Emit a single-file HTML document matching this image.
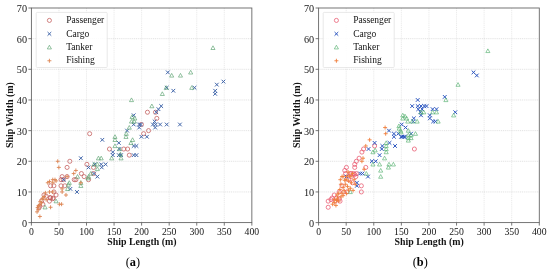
<!DOCTYPE html><html><head><meta charset="utf-8"><title>Ship length vs width</title>
<style>html,body{margin:0;padding:0;background:#fff}svg{display:block}text{font-family:"Liberation Serif","Times New Roman",serif;fill:#151515}</style></head><body>
<svg width="550" height="273" viewBox="0 0 550 273">
<rect width="550" height="273" fill="#fff"/>
<path d="M58.96 8.0V222.6M86.51 8.0V222.6M114.07 8.0V222.6M141.62 8.0V222.6M169.18 8.0V222.6M196.74 8.0V222.6M224.29 8.0V222.6" stroke="#dcdcdc" stroke-width="0.6" stroke-dasharray="1.1 0.8" fill="none"/>
<path d="M31.4 191.94H251.85M31.4 161.29H251.85M31.4 130.63H251.85M31.4 99.97H251.85M31.4 69.31H251.85M31.4 38.66H251.85" stroke="#d0d0d0" stroke-width="0.6" stroke-dasharray="1.1 0.8" fill="none"/>
<circle cx="155.49" cy="112.23" r="2.05" fill="none" stroke="#c25a58" stroke-width="0.75"/>
<circle cx="156.81" cy="118.37" r="2.05" fill="none" stroke="#c25a58" stroke-width="0.75"/>
<circle cx="147.46" cy="112.23" r="2.05" fill="none" stroke="#c25a58" stroke-width="0.75"/>
<circle cx="141.40" cy="124.50" r="2.05" fill="none" stroke="#c25a58" stroke-width="0.75"/>
<circle cx="148.56" cy="130.63" r="2.05" fill="none" stroke="#c25a58" stroke-width="0.75"/>
<circle cx="143.60" cy="133.69" r="2.05" fill="none" stroke="#c25a58" stroke-width="0.75"/>
<circle cx="89.65" cy="133.69" r="2.05" fill="none" stroke="#c25a58" stroke-width="0.75"/>
<circle cx="109.47" cy="149.02" r="2.05" fill="none" stroke="#c25a58" stroke-width="0.75"/>
<circle cx="123.78" cy="149.02" r="2.05" fill="none" stroke="#c25a58" stroke-width="0.75"/>
<circle cx="127.64" cy="149.02" r="2.05" fill="none" stroke="#c25a58" stroke-width="0.75"/>
<circle cx="129.29" cy="155.15" r="2.05" fill="none" stroke="#c25a58" stroke-width="0.75"/>
<circle cx="69.83" cy="161.29" r="2.05" fill="none" stroke="#c25a58" stroke-width="0.75"/>
<circle cx="67.08" cy="167.42" r="2.05" fill="none" stroke="#c25a58" stroke-width="0.75"/>
<circle cx="86.90" cy="164.35" r="2.05" fill="none" stroke="#c25a58" stroke-width="0.75"/>
<circle cx="93.51" cy="167.42" r="2.05" fill="none" stroke="#c25a58" stroke-width="0.75"/>
<circle cx="81.40" cy="173.55" r="2.05" fill="none" stroke="#c25a58" stroke-width="0.75"/>
<circle cx="93.51" cy="173.55" r="2.05" fill="none" stroke="#c25a58" stroke-width="0.75"/>
<circle cx="62.13" cy="176.61" r="2.05" fill="none" stroke="#c25a58" stroke-width="0.75"/>
<circle cx="67.08" cy="176.61" r="2.05" fill="none" stroke="#c25a58" stroke-width="0.75"/>
<circle cx="84.15" cy="176.61" r="2.05" fill="none" stroke="#c25a58" stroke-width="0.75"/>
<circle cx="61.03" cy="179.68" r="2.05" fill="none" stroke="#c25a58" stroke-width="0.75"/>
<circle cx="63.23" cy="179.68" r="2.05" fill="none" stroke="#c25a58" stroke-width="0.75"/>
<circle cx="74.24" cy="179.68" r="2.05" fill="none" stroke="#c25a58" stroke-width="0.75"/>
<circle cx="75.89" cy="179.68" r="2.05" fill="none" stroke="#c25a58" stroke-width="0.75"/>
<circle cx="88.55" cy="179.68" r="2.05" fill="none" stroke="#c25a58" stroke-width="0.75"/>
<circle cx="50.57" cy="185.81" r="2.05" fill="none" stroke="#c25a58" stroke-width="0.75"/>
<circle cx="53.87" cy="185.81" r="2.05" fill="none" stroke="#c25a58" stroke-width="0.75"/>
<circle cx="61.03" cy="185.81" r="2.05" fill="none" stroke="#c25a58" stroke-width="0.75"/>
<circle cx="64.88" cy="185.81" r="2.05" fill="none" stroke="#c25a58" stroke-width="0.75"/>
<circle cx="53.87" cy="191.94" r="2.05" fill="none" stroke="#c25a58" stroke-width="0.75"/>
<circle cx="43.96" cy="195.01" r="2.05" fill="none" stroke="#c25a58" stroke-width="0.75"/>
<circle cx="56.07" cy="195.01" r="2.05" fill="none" stroke="#c25a58" stroke-width="0.75"/>
<circle cx="50.57" cy="198.07" r="2.05" fill="none" stroke="#c25a58" stroke-width="0.75"/>
<circle cx="53.32" cy="198.07" r="2.05" fill="none" stroke="#c25a58" stroke-width="0.75"/>
<circle cx="50.02" cy="197.46" r="2.05" fill="none" stroke="#c25a58" stroke-width="0.75"/>
<circle cx="52.77" cy="198.69" r="2.05" fill="none" stroke="#c25a58" stroke-width="0.75"/>
<circle cx="49.47" cy="201.14" r="2.05" fill="none" stroke="#c25a58" stroke-width="0.75"/>
<circle cx="42.86" cy="204.21" r="2.05" fill="none" stroke="#c25a58" stroke-width="0.75"/>
<circle cx="39.56" cy="206.35" r="2.05" fill="none" stroke="#c25a58" stroke-width="0.75"/>
<circle cx="41.76" cy="200.53" r="2.05" fill="none" stroke="#c25a58" stroke-width="0.75"/>
<circle cx="46.16" cy="196.23" r="2.05" fill="none" stroke="#c25a58" stroke-width="0.75"/>
<circle cx="39.01" cy="207.88" r="2.05" fill="none" stroke="#c25a58" stroke-width="0.75"/>
<path d="M165.97 70.53L169.67 74.23M165.97 74.23L169.67 70.53" stroke="#4166aa" stroke-width="1.0" fill="none"/>
<path d="M221.57 79.73L225.27 83.43M221.57 83.43L225.27 79.73" stroke="#4166aa" stroke-width="1.0" fill="none"/>
<path d="M214.97 82.79L218.67 86.49M214.97 86.49L218.67 82.79" stroke="#4166aa" stroke-width="1.0" fill="none"/>
<path d="M213.32 88.92L217.02 92.62M213.32 92.62L217.02 88.92" stroke="#4166aa" stroke-width="1.0" fill="none"/>
<path d="M213.32 91.99L217.02 95.69M213.32 95.69L217.02 91.99" stroke="#4166aa" stroke-width="1.0" fill="none"/>
<path d="M164.87 85.86L168.57 89.56M164.87 89.56L168.57 85.86" stroke="#4166aa" stroke-width="1.0" fill="none"/>
<path d="M171.48 88.92L175.18 92.62M171.48 92.62L175.18 88.92" stroke="#4166aa" stroke-width="1.0" fill="none"/>
<path d="M192.67 85.86L196.37 89.56M192.67 89.56L196.37 85.86" stroke="#4166aa" stroke-width="1.0" fill="none"/>
<path d="M159.37 104.25L163.07 107.95M159.37 107.95L163.07 104.25" stroke="#4166aa" stroke-width="1.0" fill="none"/>
<path d="M156.62 107.32L160.32 111.02M156.62 111.02L160.32 107.32" stroke="#4166aa" stroke-width="1.0" fill="none"/>
<path d="M154.41 110.38L158.11 114.08M154.41 114.08L158.11 110.38" stroke="#4166aa" stroke-width="1.0" fill="none"/>
<path d="M131.84 113.45L135.54 117.15M131.84 117.15L135.54 113.45" stroke="#4166aa" stroke-width="1.0" fill="none"/>
<path d="M131.84 122.65L135.54 126.35M131.84 126.35L135.54 122.65" stroke="#4166aa" stroke-width="1.0" fill="none"/>
<path d="M137.35 122.65L141.05 126.35M137.35 126.35L141.05 122.65" stroke="#4166aa" stroke-width="1.0" fill="none"/>
<path d="M139.00 122.65L142.70 126.35M139.00 126.35L142.70 122.65" stroke="#4166aa" stroke-width="1.0" fill="none"/>
<path d="M152.76 119.58L156.46 123.28M152.76 123.28L156.46 119.58" stroke="#4166aa" stroke-width="1.0" fill="none"/>
<path d="M151.11 122.65L154.81 126.35M151.11 126.35L154.81 122.65" stroke="#4166aa" stroke-width="1.0" fill="none"/>
<path d="M153.86 122.65L157.56 126.35M153.86 126.35L157.56 122.65" stroke="#4166aa" stroke-width="1.0" fill="none"/>
<path d="M153.31 125.71L157.01 129.41M153.31 129.41L157.01 125.71" stroke="#4166aa" stroke-width="1.0" fill="none"/>
<path d="M158.27 122.65L161.97 126.35M158.27 126.35L161.97 122.65" stroke="#4166aa" stroke-width="1.0" fill="none"/>
<path d="M164.87 122.65L168.57 126.35M164.87 126.35L168.57 122.65" stroke="#4166aa" stroke-width="1.0" fill="none"/>
<path d="M125.24 128.78L128.94 132.48M125.24 132.48L128.94 128.78" stroke="#4166aa" stroke-width="1.0" fill="none"/>
<path d="M137.35 125.71L141.05 129.41M137.35 129.41L141.05 125.71" stroke="#4166aa" stroke-width="1.0" fill="none"/>
<path d="M139.55 134.91L143.25 138.61M139.55 138.61L143.25 134.91" stroke="#4166aa" stroke-width="1.0" fill="none"/>
<path d="M145.06 134.91L148.75 138.61M145.06 138.61L148.75 134.91" stroke="#4166aa" stroke-width="1.0" fill="none"/>
<path d="M100.46 137.98L104.16 141.68M100.46 141.68L104.16 137.98" stroke="#4166aa" stroke-width="1.0" fill="none"/>
<path d="M116.98 141.04L120.68 144.74M116.98 144.74L120.68 141.04" stroke="#4166aa" stroke-width="1.0" fill="none"/>
<path d="M131.84 144.11L135.54 147.81M131.84 147.81L135.54 144.11" stroke="#4166aa" stroke-width="1.0" fill="none"/>
<path d="M134.60 144.11L138.30 147.81M134.60 147.81L138.30 144.11" stroke="#4166aa" stroke-width="1.0" fill="none"/>
<path d="M117.53 147.17L121.23 150.87M117.53 150.87L121.23 147.17" stroke="#4166aa" stroke-width="1.0" fill="none"/>
<path d="M110.92 150.24L114.62 153.94M110.92 153.94L114.62 150.24" stroke="#4166aa" stroke-width="1.0" fill="none"/>
<path d="M110.92 153.30L114.62 157.00M110.92 157.00L114.62 153.30" stroke="#4166aa" stroke-width="1.0" fill="none"/>
<path d="M116.98 153.30L120.68 157.00M116.98 157.00L120.68 153.30" stroke="#4166aa" stroke-width="1.0" fill="none"/>
<path d="M119.18 153.30L122.88 157.00M119.18 157.00L122.88 153.30" stroke="#4166aa" stroke-width="1.0" fill="none"/>
<path d="M131.84 153.30L135.54 157.00M131.84 157.00L135.54 153.30" stroke="#4166aa" stroke-width="1.0" fill="none"/>
<path d="M134.60 153.30L138.30 157.00M134.60 157.00L138.30 153.30" stroke="#4166aa" stroke-width="1.0" fill="none"/>
<path d="M99.36 162.50L103.06 166.20M99.36 166.20L103.06 162.50" stroke="#4166aa" stroke-width="1.0" fill="none"/>
<path d="M103.77 162.50L107.47 166.20M103.77 166.20L107.47 162.50" stroke="#4166aa" stroke-width="1.0" fill="none"/>
<path d="M79.00 156.37L82.69 160.07M79.00 160.07L82.69 156.37" stroke="#4166aa" stroke-width="1.0" fill="none"/>
<path d="M86.70 165.57L90.40 169.27M86.70 169.27L90.40 165.57" stroke="#4166aa" stroke-width="1.0" fill="none"/>
<path d="M92.76 162.50L96.46 166.20M92.76 166.20L96.46 162.50" stroke="#4166aa" stroke-width="1.0" fill="none"/>
<path d="M99.91 165.57L103.61 169.27M99.91 169.27L103.61 165.57" stroke="#4166aa" stroke-width="1.0" fill="none"/>
<path d="M92.21 171.70L95.91 175.40M92.21 175.40L95.91 171.70" stroke="#4166aa" stroke-width="1.0" fill="none"/>
<path d="M95.51 174.76L99.21 178.46M95.51 178.46L99.21 174.76" stroke="#4166aa" stroke-width="1.0" fill="none"/>
<path d="M61.93 177.83L65.63 181.53M61.93 181.53L65.63 177.83" stroke="#4166aa" stroke-width="1.0" fill="none"/>
<path d="M68.54 187.03L72.24 190.73M68.54 190.73L72.24 187.03" stroke="#4166aa" stroke-width="1.0" fill="none"/>
<path d="M75.14 190.09L78.84 193.79M75.14 193.79L78.84 190.09" stroke="#4166aa" stroke-width="1.0" fill="none"/>
<path d="M178.09 122.65L181.78 126.35M178.09 126.35L181.78 122.65" stroke="#4166aa" stroke-width="1.0" fill="none"/>
<path d="M212.97 45.80L215.02 49.50L210.91 49.50Z" stroke="#58a06e" stroke-width="0.65" fill="none"/>
<path d="M171.68 73.40L173.73 77.10L169.63 77.10Z" stroke="#58a06e" stroke-width="0.65" fill="none"/>
<path d="M180.49 73.40L182.54 77.10L178.44 77.10Z" stroke="#58a06e" stroke-width="0.65" fill="none"/>
<path d="M190.67 70.33L192.72 74.03L188.62 74.03Z" stroke="#58a06e" stroke-width="0.65" fill="none"/>
<path d="M166.17 85.66L168.22 89.36L164.12 89.36Z" stroke="#58a06e" stroke-width="0.65" fill="none"/>
<path d="M191.77 85.66L193.82 89.36L189.72 89.36Z" stroke="#58a06e" stroke-width="0.65" fill="none"/>
<path d="M162.32 91.79L164.37 95.49L160.27 95.49Z" stroke="#58a06e" stroke-width="0.65" fill="none"/>
<path d="M151.86 104.05L153.91 107.75L149.81 107.75Z" stroke="#58a06e" stroke-width="0.65" fill="none"/>
<path d="M131.49 97.92L133.54 101.62L129.44 101.62Z" stroke="#58a06e" stroke-width="0.65" fill="none"/>
<path d="M132.04 114.78L134.09 118.48L129.99 118.48Z" stroke="#58a06e" stroke-width="0.65" fill="none"/>
<path d="M134.79 116.32L136.84 120.02L132.74 120.02Z" stroke="#58a06e" stroke-width="0.65" fill="none"/>
<path d="M131.49 119.38L133.54 123.08L129.44 123.08Z" stroke="#58a06e" stroke-width="0.65" fill="none"/>
<path d="M134.24 119.38L136.29 123.08L132.19 123.08Z" stroke="#58a06e" stroke-width="0.65" fill="none"/>
<path d="M129.29 125.51L131.34 129.21L127.24 129.21Z" stroke="#58a06e" stroke-width="0.65" fill="none"/>
<path d="M126.26 131.64L128.31 135.34L124.21 135.34Z" stroke="#58a06e" stroke-width="0.65" fill="none"/>
<path d="M125.99 134.71L128.04 138.41L123.94 138.41Z" stroke="#58a06e" stroke-width="0.65" fill="none"/>
<path d="M114.98 134.71L117.03 138.41L112.93 138.41Z" stroke="#58a06e" stroke-width="0.65" fill="none"/>
<path d="M114.98 137.78L117.03 141.48L112.93 141.48Z" stroke="#58a06e" stroke-width="0.65" fill="none"/>
<path d="M132.59 137.78L134.64 141.48L130.54 141.48Z" stroke="#58a06e" stroke-width="0.65" fill="none"/>
<path d="M130.94 140.84L132.99 144.54L128.89 144.54Z" stroke="#58a06e" stroke-width="0.65" fill="none"/>
<path d="M114.98 143.91L117.03 147.61L112.93 147.61Z" stroke="#58a06e" stroke-width="0.65" fill="none"/>
<path d="M119.38 146.97L121.43 150.67L117.33 150.67Z" stroke="#58a06e" stroke-width="0.65" fill="none"/>
<path d="M120.48 152.18L122.53 155.88L118.43 155.88Z" stroke="#58a06e" stroke-width="0.65" fill="none"/>
<path d="M121.03 156.17L123.08 159.87L118.98 159.87Z" stroke="#58a06e" stroke-width="0.65" fill="none"/>
<path d="M111.67 156.17L113.72 159.87L109.62 159.87Z" stroke="#58a06e" stroke-width="0.65" fill="none"/>
<path d="M101.21 156.17L103.26 159.87L99.16 159.87Z" stroke="#58a06e" stroke-width="0.65" fill="none"/>
<path d="M98.46 156.17L100.51 159.87L96.41 159.87Z" stroke="#58a06e" stroke-width="0.65" fill="none"/>
<path d="M94.06 162.30L96.11 166.00L92.01 166.00Z" stroke="#58a06e" stroke-width="0.65" fill="none"/>
<path d="M97.36 162.30L99.41 166.00L95.31 166.00Z" stroke="#58a06e" stroke-width="0.65" fill="none"/>
<path d="M97.36 166.90L99.41 170.60L95.31 170.60Z" stroke="#58a06e" stroke-width="0.65" fill="none"/>
<path d="M90.75 171.50L92.80 175.20L88.70 175.20Z" stroke="#58a06e" stroke-width="0.65" fill="none"/>
<path d="M77.54 174.56L79.59 178.26L75.49 178.26Z" stroke="#58a06e" stroke-width="0.65" fill="none"/>
<path d="M88.55 174.56L90.60 178.26L86.50 178.26Z" stroke="#58a06e" stroke-width="0.65" fill="none"/>
<path d="M69.28 180.70L71.33 184.40L67.23 184.40Z" stroke="#58a06e" stroke-width="0.65" fill="none"/>
<path d="M80.84 180.70L82.89 184.40L78.80 184.40Z" stroke="#58a06e" stroke-width="0.65" fill="none"/>
<path d="M80.84 183.76L82.89 187.46L78.80 187.46Z" stroke="#58a06e" stroke-width="0.65" fill="none"/>
<path d="M68.46 182.54L70.51 186.24L66.41 186.24Z" stroke="#58a06e" stroke-width="0.65" fill="none"/>
<path d="M67.63 186.83L69.68 190.53L65.58 190.53Z" stroke="#58a06e" stroke-width="0.65" fill="none"/>
<path d="M56.07 199.09L58.12 202.79L54.02 202.79Z" stroke="#58a06e" stroke-width="0.65" fill="none"/>
<path d="M45.06 205.22L47.11 208.92L43.01 208.92Z" stroke="#58a06e" stroke-width="0.65" fill="none"/>
<path d="M88.00 176.10L90.05 179.80L85.95 179.80Z" stroke="#58a06e" stroke-width="0.65" fill="none"/>
<path d="M55.72 161.29L59.72 161.29M57.72 159.29L57.72 163.29" stroke="#dd8452" stroke-width="0.9" fill="none"/>
<path d="M56.83 167.42L60.83 167.42M58.83 165.42L58.83 169.42" stroke="#dd8452" stroke-width="0.9" fill="none"/>
<path d="M73.89 170.48L77.89 170.48M75.89 168.48L75.89 172.48" stroke="#dd8452" stroke-width="0.9" fill="none"/>
<path d="M71.69 173.55L75.69 173.55M73.69 171.55L73.69 175.55" stroke="#dd8452" stroke-width="0.9" fill="none"/>
<path d="M65.08 176.61L69.08 176.61M67.08 174.61L67.08 178.61" stroke="#dd8452" stroke-width="0.9" fill="none"/>
<path d="M50.77 179.68L54.77 179.68M52.77 177.68L52.77 181.68" stroke="#dd8452" stroke-width="0.9" fill="none"/>
<path d="M52.97 179.68L56.97 179.68M54.97 177.68L54.97 181.68" stroke="#dd8452" stroke-width="0.9" fill="none"/>
<path d="M45.81 182.75L49.81 182.75M47.81 180.75L47.81 184.75" stroke="#dd8452" stroke-width="0.9" fill="none"/>
<path d="M50.77 182.75L54.77 182.75M52.77 180.75L52.77 184.75" stroke="#dd8452" stroke-width="0.9" fill="none"/>
<path d="M78.84 182.75L82.84 182.75M80.84 180.75L80.84 184.75" stroke="#dd8452" stroke-width="0.9" fill="none"/>
<path d="M47.47 191.94L51.47 191.94M49.47 189.94L49.47 193.94" stroke="#dd8452" stroke-width="0.9" fill="none"/>
<path d="M50.77 191.94L54.77 191.94M52.77 189.94L52.77 193.94" stroke="#dd8452" stroke-width="0.9" fill="none"/>
<path d="M60.13 188.88L64.13 188.88M62.13 186.88L62.13 190.88" stroke="#dd8452" stroke-width="0.9" fill="none"/>
<path d="M60.13 191.94L64.13 191.94M62.13 189.94L62.13 193.94" stroke="#dd8452" stroke-width="0.9" fill="none"/>
<path d="M63.98 195.01L67.98 195.01M65.98 193.01L65.98 197.01" stroke="#dd8452" stroke-width="0.9" fill="none"/>
<path d="M40.86 198.07L44.86 198.07M42.86 196.07L42.86 200.07" stroke="#dd8452" stroke-width="0.9" fill="none"/>
<path d="M59.58 204.21L63.58 204.21M61.58 202.21L61.58 206.21" stroke="#dd8452" stroke-width="0.9" fill="none"/>
<path d="M57.38 204.21L61.38 204.21M59.38 202.21L59.38 206.21" stroke="#dd8452" stroke-width="0.9" fill="none"/>
<path d="M48.57 207.27L52.57 207.27M50.57 205.27L50.57 209.27" stroke="#dd8452" stroke-width="0.9" fill="none"/>
<path d="M35.69 207.58L39.69 207.58M37.69 205.58L37.69 209.58" stroke="#dd8452" stroke-width="0.9" fill="none"/>
<path d="M36.18 209.72L40.18 209.72M38.18 207.72L38.18 211.72" stroke="#dd8452" stroke-width="0.9" fill="none"/>
<path d="M35.08 211.87L39.08 211.87M37.08 209.87L37.08 213.87" stroke="#dd8452" stroke-width="0.9" fill="none"/>
<path d="M37.89 216.47L41.89 216.47M39.89 214.47L39.89 218.47" stroke="#dd8452" stroke-width="0.9" fill="none"/>
<path d="M39.54 202.98L43.54 202.98M41.54 200.98L41.54 204.98" stroke="#dd8452" stroke-width="0.9" fill="none"/>
<path d="M37.61 205.13L41.61 205.13M39.61 203.13L39.61 207.13" stroke="#dd8452" stroke-width="0.9" fill="none"/>
<path d="M40.20 199.30L44.20 199.30M42.20 197.30L42.20 201.30" stroke="#dd8452" stroke-width="0.9" fill="none"/>
<path d="M44.16 199.61L48.16 199.61M46.16 197.61L46.16 201.61" stroke="#dd8452" stroke-width="0.9" fill="none"/>
<path d="M43.39 192.86L47.39 192.86M45.39 190.86L45.39 194.86" stroke="#dd8452" stroke-width="0.9" fill="none"/>
<path d="M47.47 181.52L51.47 181.52M49.47 179.52L49.47 183.52" stroke="#dd8452" stroke-width="0.9" fill="none"/>
<path d="M54.07 180.91L58.07 180.91M56.07 178.91L56.07 182.91" stroke="#dd8452" stroke-width="0.9" fill="none"/>
<path d="M36.46 205.74L40.46 205.74M38.46 203.74L38.46 207.74" stroke="#dd8452" stroke-width="0.9" fill="none"/>
<path d="M38.11 201.75L42.11 201.75M40.11 199.75L40.11 203.75" stroke="#dd8452" stroke-width="0.9" fill="none"/>
<path d="M41.96 196.54L45.96 196.54M43.96 194.54L43.96 198.54" stroke="#dd8452" stroke-width="0.9" fill="none"/>
<rect x="31.4" y="8.0" width="220.45" height="214.60" fill="none" stroke="#666" stroke-width="0.9"/>
<path d="M31.40 222.6v3.0M58.96 222.6v3.0M86.51 222.6v3.0M114.07 222.6v3.0M141.62 222.6v3.0M169.18 222.6v3.0M196.74 222.6v3.0M224.29 222.6v3.0M251.85 222.6v3.0M31.4 222.60h-3.0M31.4 191.94h-3.0M31.4 161.29h-3.0M31.4 130.63h-3.0M31.4 99.97h-3.0M31.4 69.31h-3.0M31.4 38.66h-3.0M31.4 8.00h-3.0" stroke="#555" stroke-width="0.8" fill="none"/>
<text transform="translate(31.40 234.65) scale(0.955 1)" font-size="10.2" text-anchor="middle">0</text>
<text transform="translate(58.96 234.65) scale(0.955 1)" font-size="10.2" text-anchor="middle">50</text>
<text transform="translate(86.51 234.65) scale(0.955 1)" font-size="10.2" text-anchor="middle">100</text>
<text transform="translate(114.07 234.65) scale(0.955 1)" font-size="10.2" text-anchor="middle">150</text>
<text transform="translate(141.62 234.65) scale(0.955 1)" font-size="10.2" text-anchor="middle">200</text>
<text transform="translate(169.18 234.65) scale(0.955 1)" font-size="10.2" text-anchor="middle">250</text>
<text transform="translate(196.74 234.65) scale(0.955 1)" font-size="10.2" text-anchor="middle">300</text>
<text transform="translate(224.29 234.65) scale(0.955 1)" font-size="10.2" text-anchor="middle">350</text>
<text transform="translate(251.85 234.65) scale(0.955 1)" font-size="10.2" text-anchor="middle">400</text>
<text transform="translate(27.00 226.50) scale(1.0 1)" font-size="10.2" text-anchor="end">0</text>
<text transform="translate(27.00 195.84) scale(1.0 1)" font-size="10.2" text-anchor="end">10</text>
<text transform="translate(27.00 165.19) scale(1.0 1)" font-size="10.2" text-anchor="end">20</text>
<text transform="translate(27.00 134.53) scale(1.0 1)" font-size="10.2" text-anchor="end">30</text>
<text transform="translate(27.00 103.87) scale(1.0 1)" font-size="10.2" text-anchor="end">40</text>
<text transform="translate(27.00 73.21) scale(1.0 1)" font-size="10.2" text-anchor="end">50</text>
<text transform="translate(27.00 42.56) scale(1.0 1)" font-size="10.2" text-anchor="end">60</text>
<text transform="translate(27.00 11.90) scale(1.0 1)" font-size="10.2" text-anchor="end">70</text>
<text transform="translate(141.93 245.00) scale(0.972 1)" font-size="10.2" text-anchor="middle" font-weight="bold">Ship Length (m)</text>
<text transform="translate(12.60 115.1) rotate(-90) scale(0.977 0.93)" font-size="10.2" font-weight="bold" text-anchor="middle">Ship Width (m)</text>
<text x="132.93" y="266" font-size="12.3" text-anchor="middle" style="fill:#000">(<tspan font-weight="bold">a</tspan>)</text>
<rect x="36.20" y="12.4" width="71" height="55.1" rx="1" fill="#fff" fill-opacity="0.85" stroke="#e0e0e0" stroke-width="0.7"/>
<circle cx="49.40" cy="20.40" r="2.05" fill="none" stroke="#c25a58" stroke-width="0.75"/>
<text transform="translate(66.20 23.10) scale(0.935 1)" style="fill:#111" font-size="10.2" text-anchor="start">Passenger</text>
<path d="M47.55 32.00L51.25 35.70M47.55 35.70L51.25 32.00" stroke="#4166aa" stroke-width="1.0" fill="none"/>
<text transform="translate(66.20 36.55) scale(0.935 1)" style="fill:#111" font-size="10.2" text-anchor="start">Cargo</text>
<path d="M49.40 45.25L51.45 48.95L47.35 48.95Z" stroke="#58a06e" stroke-width="0.65" fill="none"/>
<text transform="translate(66.20 50.00) scale(0.935 1)" style="fill:#111" font-size="10.2" text-anchor="start">Tanker</text>
<path d="M47.40 60.75L51.40 60.75M49.40 58.75L49.40 62.75" stroke="#dd8452" stroke-width="0.9" fill="none"/>
<text transform="translate(66.20 63.45) scale(0.935 1)" style="fill:#111" font-size="10.2" text-anchor="start">Fishing</text>
<path d="M346.19 8.0V222.6M373.77 8.0V222.6M401.36 8.0V222.6M428.95 8.0V222.6M456.54 8.0V222.6M484.12 8.0V222.6M511.71 8.0V222.6" stroke="#dcdcdc" stroke-width="0.6" stroke-dasharray="1.1 0.8" fill="none"/>
<path d="M318.6 191.94H539.3M318.6 161.29H539.3M318.6 130.63H539.3M318.6 99.97H539.3M318.6 69.31H539.3M318.6 38.66H539.3" stroke="#d0d0d0" stroke-width="0.6" stroke-dasharray="1.1 0.8" fill="none"/>
<circle cx="414.39" cy="149.02" r="2.05" fill="none" stroke="#e8566c" stroke-width="0.75"/>
<circle cx="374.61" cy="145.96" r="2.05" fill="none" stroke="#e8566c" stroke-width="0.75"/>
<circle cx="363.56" cy="149.02" r="2.05" fill="none" stroke="#e8566c" stroke-width="0.75"/>
<circle cx="361.90" cy="152.09" r="2.05" fill="none" stroke="#e8566c" stroke-width="0.75"/>
<circle cx="359.14" cy="158.22" r="2.05" fill="none" stroke="#e8566c" stroke-width="0.75"/>
<circle cx="356.38" cy="161.29" r="2.05" fill="none" stroke="#e8566c" stroke-width="0.75"/>
<circle cx="354.72" cy="164.35" r="2.05" fill="none" stroke="#e8566c" stroke-width="0.75"/>
<circle cx="354.72" cy="167.42" r="2.05" fill="none" stroke="#e8566c" stroke-width="0.75"/>
<circle cx="346.43" cy="167.42" r="2.05" fill="none" stroke="#e8566c" stroke-width="0.75"/>
<circle cx="365.77" cy="167.42" r="2.05" fill="none" stroke="#e8566c" stroke-width="0.75"/>
<circle cx="344.77" cy="170.48" r="2.05" fill="none" stroke="#e8566c" stroke-width="0.75"/>
<circle cx="350.30" cy="173.55" r="2.05" fill="none" stroke="#e8566c" stroke-width="0.75"/>
<circle cx="353.61" cy="173.55" r="2.05" fill="none" stroke="#e8566c" stroke-width="0.75"/>
<circle cx="356.38" cy="173.55" r="2.05" fill="none" stroke="#e8566c" stroke-width="0.75"/>
<circle cx="345.60" cy="173.55" r="2.05" fill="none" stroke="#e8566c" stroke-width="0.75"/>
<circle cx="351.40" cy="173.55" r="2.05" fill="none" stroke="#e8566c" stroke-width="0.75"/>
<circle cx="354.72" cy="174.47" r="2.05" fill="none" stroke="#e8566c" stroke-width="0.75"/>
<circle cx="351.40" cy="176.61" r="2.05" fill="none" stroke="#e8566c" stroke-width="0.75"/>
<circle cx="355.82" cy="176.61" r="2.05" fill="none" stroke="#e8566c" stroke-width="0.75"/>
<circle cx="361.35" cy="185.81" r="2.05" fill="none" stroke="#e8566c" stroke-width="0.75"/>
<circle cx="361.35" cy="191.94" r="2.05" fill="none" stroke="#e8566c" stroke-width="0.75"/>
<circle cx="339.25" cy="191.94" r="2.05" fill="none" stroke="#e8566c" stroke-width="0.75"/>
<circle cx="343.67" cy="191.94" r="2.05" fill="none" stroke="#e8566c" stroke-width="0.75"/>
<circle cx="346.98" cy="191.94" r="2.05" fill="none" stroke="#e8566c" stroke-width="0.75"/>
<circle cx="332.06" cy="198.07" r="2.05" fill="none" stroke="#e8566c" stroke-width="0.75"/>
<circle cx="336.49" cy="198.07" r="2.05" fill="none" stroke="#e8566c" stroke-width="0.75"/>
<circle cx="339.25" cy="198.69" r="2.05" fill="none" stroke="#e8566c" stroke-width="0.75"/>
<circle cx="328.20" cy="201.14" r="2.05" fill="none" stroke="#e8566c" stroke-width="0.75"/>
<circle cx="335.38" cy="201.14" r="2.05" fill="none" stroke="#e8566c" stroke-width="0.75"/>
<circle cx="340.02" cy="201.14" r="2.05" fill="none" stroke="#e8566c" stroke-width="0.75"/>
<circle cx="328.20" cy="207.27" r="2.05" fill="none" stroke="#e8566c" stroke-width="0.75"/>
<circle cx="342.01" cy="185.81" r="2.05" fill="none" stroke="#e8566c" stroke-width="0.75"/>
<circle cx="334.27" cy="195.01" r="2.05" fill="none" stroke="#e8566c" stroke-width="0.75"/>
<circle cx="348.64" cy="179.68" r="2.05" fill="none" stroke="#e8566c" stroke-width="0.75"/>
<circle cx="352.51" cy="182.75" r="2.05" fill="none" stroke="#e8566c" stroke-width="0.75"/>
<circle cx="330.96" cy="199.61" r="2.05" fill="none" stroke="#e8566c" stroke-width="0.75"/>
<path d="M471.65 70.53L475.36 74.23M471.65 74.23L475.36 70.53" stroke="#2c56c0" stroke-width="1.0" fill="none"/>
<path d="M474.97 73.60L478.67 77.30M474.97 77.30L478.67 73.60" stroke="#2c56c0" stroke-width="1.0" fill="none"/>
<path d="M442.92 95.06L446.62 98.76M442.92 98.76L446.62 95.06" stroke="#2c56c0" stroke-width="1.0" fill="none"/>
<path d="M415.85 98.12L419.55 101.82M415.85 101.82L419.55 98.12" stroke="#2c56c0" stroke-width="1.0" fill="none"/>
<path d="M453.42 110.38L457.12 114.08M453.42 114.08L457.12 110.38" stroke="#2c56c0" stroke-width="1.0" fill="none"/>
<path d="M410.33 104.25L414.03 107.95M410.33 107.95L414.03 104.25" stroke="#2c56c0" stroke-width="1.0" fill="none"/>
<path d="M415.85 104.25L419.55 107.95M415.85 107.95L419.55 104.25" stroke="#2c56c0" stroke-width="1.0" fill="none"/>
<path d="M419.17 104.25L422.87 107.95M419.17 107.95L422.87 104.25" stroke="#2c56c0" stroke-width="1.0" fill="none"/>
<path d="M422.48 104.25L426.18 107.95M422.48 107.95L426.18 104.25" stroke="#2c56c0" stroke-width="1.0" fill="none"/>
<path d="M424.69 104.25L428.39 107.95M424.69 107.95L428.39 104.25" stroke="#2c56c0" stroke-width="1.0" fill="none"/>
<path d="M416.40 107.32L420.11 111.02M416.40 111.02L420.11 107.32" stroke="#2c56c0" stroke-width="1.0" fill="none"/>
<path d="M420.27 107.32L423.97 111.02M420.27 111.02L423.97 107.32" stroke="#2c56c0" stroke-width="1.0" fill="none"/>
<path d="M430.77 107.32L434.47 111.02M430.77 111.02L434.47 107.32" stroke="#2c56c0" stroke-width="1.0" fill="none"/>
<path d="M434.64 107.32L438.34 111.02M434.64 111.02L438.34 107.32" stroke="#2c56c0" stroke-width="1.0" fill="none"/>
<path d="M418.61 110.38L422.31 114.08M418.61 114.08L422.31 110.38" stroke="#2c56c0" stroke-width="1.0" fill="none"/>
<path d="M419.17 113.45L422.87 117.15M419.17 117.15L422.87 113.45" stroke="#2c56c0" stroke-width="1.0" fill="none"/>
<path d="M428.01 113.45L431.71 117.15M428.01 117.15L431.71 113.45" stroke="#2c56c0" stroke-width="1.0" fill="none"/>
<path d="M428.01 116.52L431.71 120.22M428.01 120.22L431.71 116.52" stroke="#2c56c0" stroke-width="1.0" fill="none"/>
<path d="M411.98 116.52L415.69 120.22M411.98 120.22L415.69 116.52" stroke="#2c56c0" stroke-width="1.0" fill="none"/>
<path d="M411.43 119.58L415.13 123.28M411.43 123.28L415.13 119.58" stroke="#2c56c0" stroke-width="1.0" fill="none"/>
<path d="M431.32 119.58L435.02 123.28M431.32 123.28L435.02 119.58" stroke="#2c56c0" stroke-width="1.0" fill="none"/>
<path d="M433.53 119.58L437.23 123.28M433.53 123.28L437.23 119.58" stroke="#2c56c0" stroke-width="1.0" fill="none"/>
<path d="M399.83 122.65L403.53 126.35M399.83 126.35L403.53 122.65" stroke="#2c56c0" stroke-width="1.0" fill="none"/>
<path d="M403.70 125.71L407.40 129.41M403.70 129.41L407.40 125.71" stroke="#2c56c0" stroke-width="1.0" fill="none"/>
<path d="M387.12 128.78L390.82 132.48M387.12 132.48L390.82 128.78" stroke="#2c56c0" stroke-width="1.0" fill="none"/>
<path d="M392.09 131.84L395.80 135.54M392.09 135.54L395.80 131.84" stroke="#2c56c0" stroke-width="1.0" fill="none"/>
<path d="M392.09 134.91L395.80 138.61M392.09 138.61L395.80 134.91" stroke="#2c56c0" stroke-width="1.0" fill="none"/>
<path d="M396.51 131.84L400.22 135.54M396.51 135.54L400.22 131.84" stroke="#2c56c0" stroke-width="1.0" fill="none"/>
<path d="M399.28 134.91L402.98 138.61M399.28 138.61L402.98 134.91" stroke="#2c56c0" stroke-width="1.0" fill="none"/>
<path d="M400.38 134.91L404.08 138.61M400.38 138.61L404.08 134.91" stroke="#2c56c0" stroke-width="1.0" fill="none"/>
<path d="M402.04 134.91L405.74 138.61M402.04 138.61L405.74 134.91" stroke="#2c56c0" stroke-width="1.0" fill="none"/>
<path d="M403.14 134.91L406.85 138.61M403.14 138.61L406.85 134.91" stroke="#2c56c0" stroke-width="1.0" fill="none"/>
<path d="M409.22 131.84L412.92 135.54M409.22 135.54L412.92 131.84" stroke="#2c56c0" stroke-width="1.0" fill="none"/>
<path d="M372.76 141.04L376.46 144.74M372.76 144.74L376.46 141.04" stroke="#2c56c0" stroke-width="1.0" fill="none"/>
<path d="M387.67 141.04L391.38 144.74M387.67 144.74L391.38 141.04" stroke="#2c56c0" stroke-width="1.0" fill="none"/>
<path d="M393.20 144.11L396.90 147.81M393.20 147.81L396.90 144.11" stroke="#2c56c0" stroke-width="1.0" fill="none"/>
<path d="M380.49 144.11L384.19 147.81M380.49 147.81L384.19 144.11" stroke="#2c56c0" stroke-width="1.0" fill="none"/>
<path d="M379.94 147.17L383.64 150.87M379.94 150.87L383.64 147.17" stroke="#2c56c0" stroke-width="1.0" fill="none"/>
<path d="M366.68 147.17L370.38 150.87M366.68 150.87L370.38 147.17" stroke="#2c56c0" stroke-width="1.0" fill="none"/>
<path d="M377.73 153.30L381.43 157.00M377.73 157.00L381.43 153.30" stroke="#2c56c0" stroke-width="1.0" fill="none"/>
<path d="M369.99 159.44L373.69 163.14M369.99 163.14L373.69 159.44" stroke="#2c56c0" stroke-width="1.0" fill="none"/>
<path d="M373.86 159.44L377.56 163.14M373.86 163.14L377.56 159.44" stroke="#2c56c0" stroke-width="1.0" fill="none"/>
<path d="M358.39 171.70L362.09 175.40M358.39 175.40L362.09 171.70" stroke="#2c56c0" stroke-width="1.0" fill="none"/>
<path d="M360.60 171.70L364.30 175.40M360.60 175.40L364.30 171.70" stroke="#2c56c0" stroke-width="1.0" fill="none"/>
<path d="M366.13 174.76L369.83 178.46M366.13 178.46L369.83 174.76" stroke="#2c56c0" stroke-width="1.0" fill="none"/>
<path d="M344.58 174.76L348.28 178.46M344.58 178.46L348.28 174.76" stroke="#2c56c0" stroke-width="1.0" fill="none"/>
<path d="M355.08 180.90L358.78 184.60M355.08 184.60L358.78 180.90" stroke="#2c56c0" stroke-width="1.0" fill="none"/>
<path d="M355.08 183.96L358.78 187.66M355.08 187.66L358.78 183.96" stroke="#2c56c0" stroke-width="1.0" fill="none"/>
<path d="M487.87 48.87L489.92 52.57L485.82 52.57Z" stroke="#55b070" stroke-width="0.65" fill="none"/>
<path d="M458.03 82.59L460.08 86.29L455.98 86.29Z" stroke="#55b070" stroke-width="0.65" fill="none"/>
<path d="M445.88 97.92L447.93 101.62L443.83 101.62Z" stroke="#55b070" stroke-width="0.65" fill="none"/>
<path d="M453.62 113.25L455.67 116.95L451.56 116.95Z" stroke="#55b070" stroke-width="0.65" fill="none"/>
<path d="M432.62 110.18L434.67 113.88L430.57 113.88Z" stroke="#55b070" stroke-width="0.65" fill="none"/>
<path d="M436.49 110.18L438.54 113.88L434.44 113.88Z" stroke="#55b070" stroke-width="0.65" fill="none"/>
<path d="M423.78 110.18L425.83 113.88L421.73 113.88Z" stroke="#55b070" stroke-width="0.65" fill="none"/>
<path d="M421.02 110.18L423.07 113.88L418.97 113.88Z" stroke="#55b070" stroke-width="0.65" fill="none"/>
<path d="M402.78 113.25L404.83 116.95L400.73 116.95Z" stroke="#55b070" stroke-width="0.65" fill="none"/>
<path d="M405.00 114.17L407.05 117.87L402.94 117.87Z" stroke="#55b070" stroke-width="0.65" fill="none"/>
<path d="M402.78 116.32L404.83 120.02L400.73 120.02Z" stroke="#55b070" stroke-width="0.65" fill="none"/>
<path d="M406.65 116.32L408.70 120.02L404.60 120.02Z" stroke="#55b070" stroke-width="0.65" fill="none"/>
<path d="M407.76 119.38L409.81 123.08L405.71 123.08Z" stroke="#55b070" stroke-width="0.65" fill="none"/>
<path d="M412.18 119.38L414.23 123.08L410.13 123.08Z" stroke="#55b070" stroke-width="0.65" fill="none"/>
<path d="M417.15 119.38L419.20 123.08L415.10 123.08Z" stroke="#55b070" stroke-width="0.65" fill="none"/>
<path d="M438.14 119.38L440.19 123.08L436.09 123.08Z" stroke="#55b070" stroke-width="0.65" fill="none"/>
<path d="M398.92 123.98L400.97 127.68L396.87 127.68Z" stroke="#55b070" stroke-width="0.65" fill="none"/>
<path d="M399.19 126.43L401.24 130.13L397.14 130.13Z" stroke="#55b070" stroke-width="0.65" fill="none"/>
<path d="M400.57 128.58L402.62 132.28L398.52 132.28Z" stroke="#55b070" stroke-width="0.65" fill="none"/>
<path d="M401.02 130.11L403.07 133.81L398.97 133.81Z" stroke="#55b070" stroke-width="0.65" fill="none"/>
<path d="M408.31 128.58L410.36 132.28L406.26 132.28Z" stroke="#55b070" stroke-width="0.65" fill="none"/>
<path d="M408.31 133.18L410.36 136.88L406.26 136.88Z" stroke="#55b070" stroke-width="0.65" fill="none"/>
<path d="M411.07 133.18L413.12 136.88L409.02 136.88Z" stroke="#55b070" stroke-width="0.65" fill="none"/>
<path d="M415.49 131.64L417.54 135.34L413.44 135.34Z" stroke="#55b070" stroke-width="0.65" fill="none"/>
<path d="M408.31 135.94L410.36 139.64L406.26 139.64Z" stroke="#55b070" stroke-width="0.65" fill="none"/>
<path d="M411.07 135.94L413.12 139.64L409.02 139.64Z" stroke="#55b070" stroke-width="0.65" fill="none"/>
<path d="M408.31 138.39L410.36 142.09L406.26 142.09Z" stroke="#55b070" stroke-width="0.65" fill="none"/>
<path d="M386.21 140.84L388.26 144.54L384.16 144.54Z" stroke="#55b070" stroke-width="0.65" fill="none"/>
<path d="M386.21 143.91L388.26 147.61L384.16 147.61Z" stroke="#55b070" stroke-width="0.65" fill="none"/>
<path d="M386.21 146.97L388.26 150.67L384.16 150.67Z" stroke="#55b070" stroke-width="0.65" fill="none"/>
<path d="M386.21 150.04L388.26 153.74L384.16 153.74Z" stroke="#55b070" stroke-width="0.65" fill="none"/>
<path d="M375.16 148.20L377.21 151.90L373.11 151.90Z" stroke="#55b070" stroke-width="0.65" fill="none"/>
<path d="M372.95 150.04L375.00 153.74L370.90 153.74Z" stroke="#55b070" stroke-width="0.65" fill="none"/>
<path d="M384.55 156.17L386.60 159.87L382.50 159.87Z" stroke="#55b070" stroke-width="0.65" fill="none"/>
<path d="M372.95 162.30L375.00 166.00L370.90 166.00Z" stroke="#55b070" stroke-width="0.65" fill="none"/>
<path d="M379.58 162.30L381.63 166.00L377.53 166.00Z" stroke="#55b070" stroke-width="0.65" fill="none"/>
<path d="M388.97 162.30L391.02 166.00L386.92 166.00Z" stroke="#55b070" stroke-width="0.65" fill="none"/>
<path d="M393.39 162.30L395.44 166.00L391.34 166.00Z" stroke="#55b070" stroke-width="0.65" fill="none"/>
<path d="M388.42 165.37L390.47 169.07L386.37 169.07Z" stroke="#55b070" stroke-width="0.65" fill="none"/>
<path d="M380.69 168.43L382.74 172.13L378.63 172.13Z" stroke="#55b070" stroke-width="0.65" fill="none"/>
<path d="M366.32 171.50L368.37 175.20L364.27 175.20Z" stroke="#55b070" stroke-width="0.65" fill="none"/>
<path d="M380.69 174.56L382.74 178.26L378.63 178.26Z" stroke="#55b070" stroke-width="0.65" fill="none"/>
<path d="M350.30 189.89L352.35 193.59L348.25 193.59Z" stroke="#55b070" stroke-width="0.65" fill="none"/>
<path d="M383.11 127.56L387.11 127.56M385.11 125.56L385.11 129.56" stroke="#f07f3c" stroke-width="0.9" fill="none"/>
<path d="M383.66 133.69L387.66 133.69M385.66 131.69L385.66 135.69" stroke="#f07f3c" stroke-width="0.9" fill="none"/>
<path d="M367.63 139.83L371.63 139.83M369.63 137.83L369.63 141.83" stroke="#f07f3c" stroke-width="0.9" fill="none"/>
<path d="M363.77 145.96L367.77 145.96M365.77 143.96L365.77 147.96" stroke="#f07f3c" stroke-width="0.9" fill="none"/>
<path d="M361.00 158.22L365.00 158.22M363.00 156.22L363.00 160.22" stroke="#f07f3c" stroke-width="0.9" fill="none"/>
<path d="M359.90 161.29L363.90 161.29M361.90 159.29L361.90 163.29" stroke="#f07f3c" stroke-width="0.9" fill="none"/>
<path d="M362.11 169.26L366.11 169.26M364.11 167.26L364.11 171.26" stroke="#f07f3c" stroke-width="0.9" fill="none"/>
<path d="M350.51 173.55L354.51 173.55M352.51 171.55L352.51 175.55" stroke="#f07f3c" stroke-width="0.9" fill="none"/>
<path d="M347.19 175.69L351.19 175.69M349.19 173.69L349.19 177.69" stroke="#f07f3c" stroke-width="0.9" fill="none"/>
<path d="M340.01 176.61L344.01 176.61M342.01 174.61L342.01 178.61" stroke="#f07f3c" stroke-width="0.9" fill="none"/>
<path d="M344.71 176.61L348.71 176.61M346.71 174.61L346.71 178.61" stroke="#f07f3c" stroke-width="0.9" fill="none"/>
<path d="M341.12 176.61L345.12 176.61M343.12 174.61L343.12 178.61" stroke="#f07f3c" stroke-width="0.9" fill="none"/>
<path d="M343.88 179.68L347.88 179.68M345.88 177.68L345.88 181.68" stroke="#f07f3c" stroke-width="0.9" fill="none"/>
<path d="M346.64 180.91L350.64 180.91M348.64 178.91L348.64 182.91" stroke="#f07f3c" stroke-width="0.9" fill="none"/>
<path d="M349.40 182.75L353.40 182.75M351.40 180.75L351.40 184.75" stroke="#f07f3c" stroke-width="0.9" fill="none"/>
<path d="M338.90 184.28L342.90 184.28M340.90 182.28L340.90 186.28" stroke="#f07f3c" stroke-width="0.9" fill="none"/>
<path d="M341.12 187.34L345.12 187.34M343.12 185.34L343.12 189.34" stroke="#f07f3c" stroke-width="0.9" fill="none"/>
<path d="M343.32 184.28L347.32 184.28M345.32 182.28L345.32 186.28" stroke="#f07f3c" stroke-width="0.9" fill="none"/>
<path d="M345.53 186.42L349.53 186.42M347.53 184.42L347.53 188.42" stroke="#f07f3c" stroke-width="0.9" fill="none"/>
<path d="M348.30 188.26L352.30 188.26M350.30 186.26L350.30 190.26" stroke="#f07f3c" stroke-width="0.9" fill="none"/>
<path d="M351.06 190.41L355.06 190.41M353.06 188.41L353.06 192.41" stroke="#f07f3c" stroke-width="0.9" fill="none"/>
<path d="M337.80 189.49L341.80 189.49M339.80 187.49L339.80 191.49" stroke="#f07f3c" stroke-width="0.9" fill="none"/>
<path d="M340.01 193.17L344.01 193.17M342.01 191.17L342.01 195.17" stroke="#f07f3c" stroke-width="0.9" fill="none"/>
<path d="M342.22 190.72L346.22 190.72M344.22 188.72L344.22 192.72" stroke="#f07f3c" stroke-width="0.9" fill="none"/>
<path d="M335.04 195.01L339.04 195.01M337.04 193.01L337.04 197.01" stroke="#f07f3c" stroke-width="0.9" fill="none"/>
<path d="M336.69 193.17L340.69 193.17M338.69 191.17L338.69 195.17" stroke="#f07f3c" stroke-width="0.9" fill="none"/>
<path d="M338.90 196.85L342.90 196.85M340.90 194.85L340.90 198.85" stroke="#f07f3c" stroke-width="0.9" fill="none"/>
<path d="M341.12 195.62L345.12 195.62M343.12 193.62L343.12 197.62" stroke="#f07f3c" stroke-width="0.9" fill="none"/>
<path d="M332.27 199.30L336.27 199.30M334.27 197.30L334.27 201.30" stroke="#f07f3c" stroke-width="0.9" fill="none"/>
<path d="M334.49 200.53L338.49 200.53M336.49 198.53L336.49 202.53" stroke="#f07f3c" stroke-width="0.9" fill="none"/>
<path d="M336.69 201.14L340.69 201.14M338.69 199.14L338.69 203.14" stroke="#f07f3c" stroke-width="0.9" fill="none"/>
<path d="M330.62 204.21L334.62 204.21M332.62 202.21L332.62 206.21" stroke="#f07f3c" stroke-width="0.9" fill="none"/>
<path d="M333.93 205.43L337.93 205.43M335.93 203.43L335.93 207.43" stroke="#f07f3c" stroke-width="0.9" fill="none"/>
<path d="M332.27 202.37L336.27 202.37M334.27 200.37L334.27 204.37" stroke="#f07f3c" stroke-width="0.9" fill="none"/>
<path d="M335.59 198.07L339.59 198.07M337.59 196.07L337.59 200.07" stroke="#f07f3c" stroke-width="0.9" fill="none"/>
<path d="M344.43 193.48L348.43 193.48M346.43 191.48L346.43 195.48" stroke="#f07f3c" stroke-width="0.9" fill="none"/>
<path d="M346.64 190.10L350.64 190.10M348.64 188.10L348.64 192.10" stroke="#f07f3c" stroke-width="0.9" fill="none"/>
<path d="M352.16 179.68L356.16 179.68M354.16 177.68L354.16 181.68" stroke="#f07f3c" stroke-width="0.9" fill="none"/>
<path d="M353.27 184.28L357.27 184.28M355.27 182.28L355.27 186.28" stroke="#f07f3c" stroke-width="0.9" fill="none"/>
<path d="M348.85 176.61L352.85 176.61M350.85 174.61L350.85 178.61" stroke="#f07f3c" stroke-width="0.9" fill="none"/>
<path d="M346.09 172.02L350.09 172.02M348.09 170.02L348.09 174.02" stroke="#f07f3c" stroke-width="0.9" fill="none"/>
<path d="M342.77 180.29L346.77 180.29M344.77 178.29L344.77 182.29" stroke="#f07f3c" stroke-width="0.9" fill="none"/>
<path d="M338.35 179.68L342.35 179.68M340.35 177.68L340.35 181.68" stroke="#f07f3c" stroke-width="0.9" fill="none"/>
<rect x="318.6" y="8.0" width="220.70" height="214.60" fill="none" stroke="#666" stroke-width="0.9"/>
<path d="M318.60 222.6v3.0M346.19 222.6v3.0M373.77 222.6v3.0M401.36 222.6v3.0M428.95 222.6v3.0M456.54 222.6v3.0M484.12 222.6v3.0M511.71 222.6v3.0M539.30 222.6v3.0M318.6 222.60h-3.0M318.6 191.94h-3.0M318.6 161.29h-3.0M318.6 130.63h-3.0M318.6 99.97h-3.0M318.6 69.31h-3.0M318.6 38.66h-3.0M318.6 8.00h-3.0" stroke="#555" stroke-width="0.8" fill="none"/>
<text transform="translate(318.60 234.65) scale(0.955 1)" font-size="10.2" text-anchor="middle">0</text>
<text transform="translate(346.19 234.65) scale(0.955 1)" font-size="10.2" text-anchor="middle">50</text>
<text transform="translate(373.77 234.65) scale(0.955 1)" font-size="10.2" text-anchor="middle">100</text>
<text transform="translate(401.36 234.65) scale(0.955 1)" font-size="10.2" text-anchor="middle">150</text>
<text transform="translate(428.95 234.65) scale(0.955 1)" font-size="10.2" text-anchor="middle">200</text>
<text transform="translate(456.54 234.65) scale(0.955 1)" font-size="10.2" text-anchor="middle">250</text>
<text transform="translate(484.12 234.65) scale(0.955 1)" font-size="10.2" text-anchor="middle">300</text>
<text transform="translate(511.71 234.65) scale(0.955 1)" font-size="10.2" text-anchor="middle">350</text>
<text transform="translate(539.30 234.65) scale(0.955 1)" font-size="10.2" text-anchor="middle">400</text>
<text transform="translate(314.20 226.50) scale(1.0 1)" font-size="10.2" text-anchor="end">0</text>
<text transform="translate(314.20 195.84) scale(1.0 1)" font-size="10.2" text-anchor="end">10</text>
<text transform="translate(314.20 165.19) scale(1.0 1)" font-size="10.2" text-anchor="end">20</text>
<text transform="translate(314.20 134.53) scale(1.0 1)" font-size="10.2" text-anchor="end">30</text>
<text transform="translate(314.20 103.87) scale(1.0 1)" font-size="10.2" text-anchor="end">40</text>
<text transform="translate(314.20 73.21) scale(1.0 1)" font-size="10.2" text-anchor="end">50</text>
<text transform="translate(314.20 42.56) scale(1.0 1)" font-size="10.2" text-anchor="end">60</text>
<text transform="translate(314.20 11.90) scale(1.0 1)" font-size="10.2" text-anchor="end">70</text>
<text transform="translate(429.25 245.00) scale(0.972 1)" font-size="10.2" text-anchor="middle" font-weight="bold">Ship Length (m)</text>
<text transform="translate(299.80 115.1) rotate(-90) scale(0.977 0.93)" font-size="10.2" font-weight="bold" text-anchor="middle">Ship Width (m)</text>
<text x="420.25" y="266" font-size="12.3" text-anchor="middle" style="fill:#000">(<tspan font-weight="bold">b</tspan>)</text>
<rect x="323.20" y="12.4" width="71" height="55.1" rx="1" fill="#fff" fill-opacity="0.85" stroke="#e0e0e0" stroke-width="0.7"/>
<circle cx="336.40" cy="20.40" r="2.05" fill="none" stroke="#e8566c" stroke-width="0.75"/>
<text transform="translate(353.20 23.10) scale(0.935 1)" style="fill:#111" font-size="10.2" text-anchor="start">Passenger</text>
<path d="M334.55 32.00L338.25 35.70M334.55 35.70L338.25 32.00" stroke="#2c56c0" stroke-width="1.0" fill="none"/>
<text transform="translate(353.20 36.55) scale(0.935 1)" style="fill:#111" font-size="10.2" text-anchor="start">Cargo</text>
<path d="M336.40 45.25L338.45 48.95L334.35 48.95Z" stroke="#55b070" stroke-width="0.65" fill="none"/>
<text transform="translate(353.20 50.00) scale(0.935 1)" style="fill:#111" font-size="10.2" text-anchor="start">Tanker</text>
<path d="M334.40 60.75L338.40 60.75M336.40 58.75L336.40 62.75" stroke="#f07f3c" stroke-width="0.9" fill="none"/>
<text transform="translate(353.20 63.45) scale(0.935 1)" style="fill:#111" font-size="10.2" text-anchor="start">Fishing</text>
</svg></body></html>
